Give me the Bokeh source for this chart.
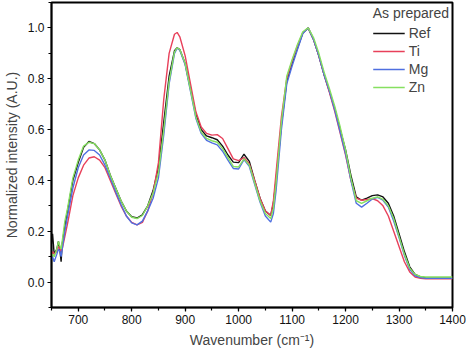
from bokeh.plotting import figure
from bokeh.models import SingleIntervalTicker, Range1d, Legend, LegendItem, PrintfTickFormatter
from bokeh.embed import file_html
from bokeh.resources import INLINE

wavenumber = [650, 652, 655, 660, 663, 666, 668, 670, 675, 680,
              690, 700, 710, 720, 730, 740, 750, 760, 770, 780, 790, 800, 810, 820, 830, 840, 850, 860, 870, 880,
              885,
              890, 900, 910, 920, 930, 940, 950, 960, 970, 980, 990, 1000, 1010, 1020, 1030, 1040, 1050, 1060,
              1065,
              1070, 1080, 1090, 1100, 1110, 1120, 1130, 1140, 1150, 1160, 1170, 1180, 1190, 1200, 1210, 1220,
              1230, 1240, 1250, 1260, 1270, 1280, 1290, 1300, 1310, 1320, 1330, 1340, 1350, 1360,
              1380, 1400]

ref = [0.15, 0.19, 0.11, 0.13, 0.16, 0.12, 0.08, 0.15, 0.22, 0.28,
       0.40, 0.47, 0.53, 0.553, 0.545, 0.52, 0.48, 0.42, 0.37, 0.32, 0.28, 0.257, 0.252, 0.265, 0.30, 0.36, 0.45, 0.63, 0.81, 0.91,
       0.922,
       0.915, 0.86, 0.76, 0.66, 0.60, 0.575, 0.568, 0.56, 0.535, 0.50, 0.472, 0.47, 0.503, 0.475, 0.40, 0.33, 0.28, 0.262,
       0.31,
       0.40, 0.62, 0.79, 0.86, 0.92, 0.98, 1.0, 0.955, 0.89, 0.815, 0.75, 0.68, 0.60, 0.52, 0.42, 0.335,
       0.322, 0.33, 0.34, 0.343, 0.335, 0.31, 0.26, 0.19, 0.12, 0.06, 0.03, 0.02, 0.016, 0.015,
       0.015, 0.015]

ti = [0.10, 0.12, 0.11, 0.12, 0.14, 0.13, 0.12, 0.13, 0.18, 0.23,
      0.34, 0.41, 0.46, 0.488, 0.493, 0.48, 0.45, 0.40, 0.35, 0.30, 0.26, 0.235, 0.225, 0.235, 0.28, 0.35, 0.47, 0.72, 0.90, 0.975,
      0.982,
      0.965, 0.89, 0.78, 0.67, 0.61, 0.585, 0.578, 0.58, 0.565, 0.525, 0.485, 0.478, 0.49, 0.465, 0.40, 0.33, 0.28, 0.262,
      0.32,
      0.43, 0.65, 0.80, 0.87, 0.93, 0.98, 1.0, 0.955, 0.89, 0.815, 0.745, 0.67, 0.585, 0.50, 0.40, 0.33,
      0.322, 0.325, 0.328, 0.32, 0.30, 0.26, 0.20, 0.14, 0.08, 0.04, 0.02, 0.015, 0.013, 0.013,
      0.013, 0.013]

mg = [0.09, 0.10, 0.08, 0.11, 0.13, 0.12, 0.10, 0.13, 0.20, 0.26,
      0.37, 0.45, 0.50, 0.52, 0.518, 0.50, 0.46, 0.41, 0.355, 0.305, 0.26, 0.233, 0.225, 0.24, 0.28, 0.33, 0.41, 0.58, 0.78, 0.90,
      0.92,
      0.912, 0.855, 0.75, 0.645, 0.585, 0.558, 0.548, 0.54, 0.515, 0.48, 0.447, 0.445, 0.482, 0.455, 0.385, 0.315, 0.26, 0.236,
      0.27,
      0.36, 0.60, 0.78, 0.85, 0.915, 0.978, 1.0, 0.955, 0.89, 0.815, 0.75, 0.675, 0.59, 0.505, 0.40, 0.31,
      0.295, 0.31, 0.327, 0.333, 0.322, 0.295, 0.24, 0.175, 0.105, 0.05, 0.025, 0.018, 0.015, 0.015,
      0.015, 0.015]

zn = [0.10, 0.11, 0.10, 0.13, 0.16, 0.14, 0.13, 0.16, 0.24, 0.29,
      0.41, 0.48, 0.535, 0.55, 0.545, 0.52, 0.48, 0.42, 0.37, 0.32, 0.28, 0.255, 0.25, 0.262, 0.30, 0.35, 0.43, 0.60, 0.79, 0.905,
      0.922,
      0.915, 0.86, 0.755, 0.65, 0.59, 0.565, 0.556, 0.55, 0.525, 0.49, 0.455, 0.453, 0.485, 0.46, 0.39, 0.32, 0.27, 0.25,
      0.29,
      0.39, 0.63, 0.81, 0.875, 0.935, 0.985, 1.0, 0.962, 0.90, 0.825, 0.76, 0.69, 0.61, 0.52, 0.41, 0.32,
      0.31, 0.32, 0.33, 0.335, 0.325, 0.30, 0.25, 0.18, 0.11, 0.055, 0.03, 0.022, 0.02, 0.02,
      0.02, 0.02]

series_names = ["Ref", "Ti", "Mg", "Zn"]
series_values = [ref, ti, mg, zn]
series_colors = ["#111111", "#e8405a", "#4f6fe0", "#86e060"]

FONT = "Liberation Sans"

p = figure(width=466, height=350, output_backend="svg", toolbar_location=None,
           x_range=Range1d(650, 1400), y_range=Range1d(-0.1, 1.1),
           min_border_left=0, min_border_right=14, min_border_top=2, min_border_bottom=0)

items = []
for name, vals, col in zip(series_names, series_values, series_colors):
    r = p.line(wavenumber, vals, line_color=col, line_width=1.4)
    items.append(LegendItem(label=name, renderers=[r]))

legend = Legend(items=items, location="top_right", title="As prepared",
                title_text_font=FONT, title_text_font_size="14px", title_text_font_style="normal",
                title_standoff=3,
                label_text_font=FONT, label_text_font_size="14px",
                glyph_width=32, glyph_height=18, label_height=18, spacing=0,
                label_standoff=4, padding=4, margin=3,
                border_line_color=None, background_fill_alpha=0)
p.add_layout(legend)

p.xaxis.ticker = SingleIntervalTicker(interval=100, num_minor_ticks=2)
p.yaxis.ticker = SingleIntervalTicker(interval=0.2, num_minor_ticks=2)
p.yaxis.formatter = PrintfTickFormatter(format="%.1f")

p.xaxis.axis_label = "Wavenumber (cm\u207b\u00b9)"
p.yaxis.axis_label = "Normalized intensity (A.U.)"

for ax in [p.xaxis[0], p.yaxis[0]]:
    ax.axis_label_text_font = FONT
    ax.axis_label_text_font_size = "14px"
    ax.axis_label_text_font_style = "normal"
    ax.major_label_text_font = FONT
    ax.major_label_text_font_size = "12px"
    ax.major_label_text_color = "#111111"
    ax.axis_line_color = "black"
    ax.axis_line_width = 1.5
    ax.major_tick_in = 0
    ax.major_tick_out = 4
    ax.minor_tick_in = 0
    ax.minor_tick_out = 3
    ax.major_tick_line_width = 1.2
    ax.minor_tick_line_width = 1.2
    ax.major_label_standoff = 3
    ax.axis_label_standoff = 5

p.xgrid.visible = False
p.ygrid.visible = False
p.outline_line_color = "black"
p.outline_line_width = 2
p.background_fill_color = "white"
p.border_fill_color = "white"

open("out.html", "w").write(file_html(p, INLINE))
